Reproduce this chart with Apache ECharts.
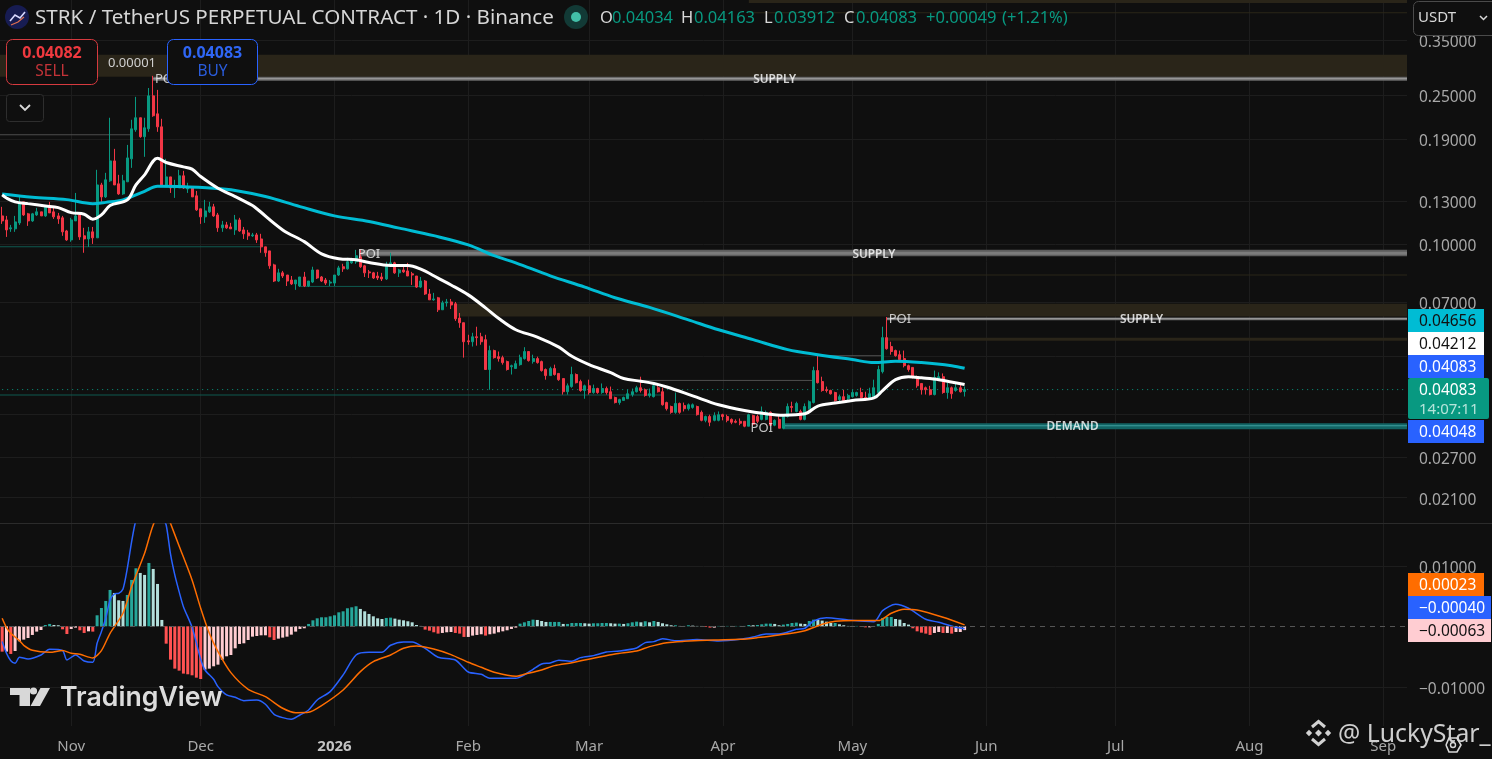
<!DOCTYPE html>
<html><head><meta charset="utf-8">
<style>html,body{margin:0;padding:0;background:#0f0f0f}#c{width:1492px;height:759px}</style>
<script src="https://cdn.jsdelivr.net/npm/echarts@6/dist/echarts.min.js"></script>
</head><body><div id="c"></div>
<script>
const startDate = Date.UTC(2025, 9, 16);
const dayCount = 326;
const categories = [];
for (let i = 0; i < dayCount; i++) categories.push(new Date(startDate + i * 86400000).toISOString().slice(0, 10));

const monthDays = [16, 46, 77, 108, 136, 167, 197, 228, 258, 289, 320];
const monthNames = ['Nov', 'Dec', '2026', 'Feb', 'Mar', 'Apr', 'May', 'Jun', 'Jul', 'Aug', 'Sep'];
const priceTickLabels = [0.35, 0.25, 0.19, 0.13, 0.10, 0.07, 0.027, 0.021];
const priceGridValues = [0.35, 0.25, 0.19, 0.13, 0.10, 0.07, 0.05, 0.035, 0.027, 0.021];
const macdTickLabels = [-0.01, 0.01];

const opens = [
.1188,.1159,.1097,.1097,.1138,.1295,.1203,.1152,.1195,.1218,
.1188,.1256,.1218,.1188,.1174,.1083,.1025,.1152,.1195,.1051,
.1031,.1077,.1038,.1437,.1335,.1474,.1666,.1447,.1360,.1465,
.1687,.2017,.2172,.1933,.2029,.2485,.2225,.2054,.1428,.1510,
.1411,.1411,.1520,.1402,.1420,.1344,.1241,.1181,.1218,.1256,
.1195,.1104,.1124,.1110,.1090,.1159,.1090,.1070,.1051,.1057,
.1031,.0982,.0958,.0879,.0796,.0837,.0826,.0801,.0782,.0772,
.0816,.0772,.0791,.0852,.0816,.0801,.0786,.0786,.0826,.0869,
.0858,.0890,.0896,.0924,.0874,.0842,.0837,.0821,.0816,.0806,
.0874,.0890,.0837,.0852,.0847,.0832,.0821,.0767,.0796,.0735,
.0709,.0718,.0667,.0696,.0700,.0692,.0634,.0616,.0551,.0548,
.0565,.0565,.0555,.0462,.0519,.0500,.0497,.0485,.0470,.0465,
.0476,.0494,.0516,.0485,.0494,.0485,.0462,.0445,.0465,.0451,
.0437,.0403,.0416,.0448,.0429,.0406,.0418,.0401,.0411,.0401,
.0411,.0403,.0389,.0377,.0382,.0386,.0396,.0403,.0413,.0408,
.0394,.0391,.0413,.0403,.0377,.0368,.0355,.0375,.0370,.0363,
.0366,.0368,.0355,.0338,.0346,.0338,.0338,.0350,.0346,.0340,
.0336,.0336,.0336,.0326,.0348,.0346,.0340,.0340,.0355,.0328,
.0340,.0322,.0346,.0368,.0357,.0357,.0340,.0363,.0377,.0459,
.0429,.0408,.0406,.0401,.0384,.0391,.0386,.0391,.0394,.0401,
.0389,.0386,.0391,.0401,.0456,.0562,.0532,.0519,.0506,.0494,
.0473,.0468,.0442,.0424,.0413,.0408,.0396,.0434,.0442,.0401,
.0413,.0406,.0413,.04034];
const closes = [
.1152,.1090,.1104,.1145,.1287,.1195,.1152,.1203,.1218,.1188,
.1256,.1210,.1181,.1166,.1077,.1025,.1159,.1188,.1044,.1031,
.1077,.1038,.1437,.1335,.1483,.1666,.1437,.1360,.1474,.1697,
.2029,.2172,.1933,.2042,.2485,.2199,.2054,.1437,.1510,.1411,
.1428,.1520,.1411,.1420,.1335,.1233,.1181,.1225,.1256,.1188,
.1104,.1124,.1104,.1097,.1159,.1083,.1064,.1051,.1057,.1025,
.0982,.0947,.0874,.0796,.0837,.0821,.0796,.0782,.0801,.0816,
.0772,.0796,.0852,.0811,.0796,.0786,.0791,.0826,.0863,.0858,
.0896,.0907,.0930,.0869,.0837,.0837,.0811,.0811,.0806,.0879,
.0890,.0837,.0852,.0842,.0821,.0826,.0767,.0796,.0735,.0709,
.0713,.0667,.0696,.0700,.0687,.0631,.0616,.0548,.0548,.0565,
.0562,.0548,.0462,.0519,.0497,.0494,.0482,.0462,.0473,.0479,
.0497,.0516,.0488,.0494,.0482,.0459,.0445,.0465,.0448,.0434,
.0403,.0418,.0448,.0426,.0406,.0418,.0401,.0411,.0401,.0411,
.0401,.0386,.0377,.0384,.0389,.0398,.0403,.0413,.0406,.0394,
.0398,.0418,.0403,.0372,.0363,.0355,.0375,.0355,.0363,.0372,
.0372,.0350,.0338,.0346,.0334,.0348,.0350,.0346,.0338,.0334,
.0334,.0332,.0326,.0350,.0330,.0336,.0357,.0355,.0328,.0338,
.0322,.0346,.0368,.0366,.0375,.0340,.0368,.0379,.0459,.0426,
.0406,.0406,.0398,.0382,.0391,.0382,.0394,.0401,.0401,.0389,
.0384,.0398,.0413,.0462,.0562,.0525,.0516,.0503,.0491,.0473,
.0462,.0440,.0418,.0408,.0408,.0396,.0440,.0442,.0401,.0413,
.0398,.0413,.0403,.04083];
const highs = [
.1256,.1188,.1124,.1188,.1344,.1295,.1210,.1210,.1248,.1218,
.1271,.1295,.1256,.1210,.1188,.1090,.1174,.1368,.1210,.1104,
.1110,.1110,.1577,.1456,.1548,.2172,.1794,.1529,.1529,.1838,
.2145,.2470,.2172,.2172,.2608,.2810,.2578,.2158,.1687,.1510,
.1483,.1577,.1567,.1456,.1420,.1385,.1241,.1311,.1295,.1279,
.1210,.1152,.1145,.1138,.1195,.1174,.1110,.1090,.1070,.1070,
.1064,.0982,.0958,.0885,.0858,.0847,.0826,.0821,.0801,.0816,
.0842,.0796,.0869,.0852,.0821,.0811,.0801,.0826,.0874,.0885,
.0918,.0918,.0964,.0964,.0879,.0852,.0842,.0842,.0837,.0896,
.0947,.0896,.0858,.0879,.0890,.0842,.0821,.0816,.0801,.0758,
.0740,.0722,.0705,.0713,.0713,.0700,.0654,.0616,.0572,.0579,
.0601,.0579,.0572,.0535,.0522,.0516,.0503,.0488,.0476,.0488,
.0506,.0530,.0516,.0506,.0500,.0488,.0465,.0470,.0476,.0451,
.0437,.0424,.0470,.0451,.0434,.0421,.0434,.0421,.0413,.0424,
.0416,.0416,.0391,.0386,.0391,.0408,.0411,.0418,.0442,.0411,
.0411,.0421,.0421,.0413,.0379,.0370,.0401,.0377,.0377,.0375,
.0375,.0370,.0359,.0348,.0350,.0355,.0357,.0352,.0350,.0342,
.0340,.0342,.0336,.0352,.0350,.0350,.0368,.0359,.0357,.0340,
.0350,.0348,.0375,.0379,.0379,.0361,.0375,.0382,.0470,.0506,
.0442,.0416,.0408,.0403,.0396,.0408,.0398,.0408,.0403,.0413,
.0403,.0413,.0434,.0473,.0601,.0638,.0548,.0522,.0519,.0519,
.0476,.0468,.0445,.0424,.0416,.0418,.0459,.0454,.0451,.0426,
.0416,.0426,.0426,.04163];
const lows = [
.1131,.1044,.1077,.1077,.1124,.1188,.1117,.1145,.1188,.1188,
.1181,.1210,.1166,.1131,.1051,.1019,.1013,.1152,.1025,.0947,
.0982,.1000,.1038,.1295,.1327,.1465,.1437,.1352,.1352,.1465,
.1596,.1992,.1921,.1708,.1992,.2185,.1992,.1437,.1420,.1368,
.1327,.1411,.1402,.1368,.1335,.1225,.1131,.1138,.1210,.1181,
.1077,.1077,.1097,.1097,.1057,.1077,.1031,.1025,.1044,.1006,
.0947,.0924,.0858,.0791,.0791,.0811,.0772,.0777,.0754,.0767,
.0767,.0767,.0786,.0806,.0791,.0777,.0772,.0772,.0821,.0842,
.0854,.0885,.0885,.0863,.0816,.0811,.0806,.0801,.0796,.0801,
.0869,.0832,.0816,.0837,.0821,.0777,.0763,.0763,.0731,.0709,
.0705,.0658,.0667,.0680,.0670,.0623,.0597,.0497,.0538,.0532,
.0535,.0538,.0462,.0408,.0494,.0485,.0476,.0459,.0448,.0465,
.0473,.0491,.0485,.0479,.0479,.0456,.0434,.0445,.0445,.0431,
.0396,.0396,.0413,.0424,.0403,.0386,.0396,.0398,.0398,.0398,
.0396,.0386,.0375,.0372,.0382,.0386,.0391,.0401,.0401,.0391,
.0389,.0389,.0401,.0370,.0359,.0352,.0352,.0352,.0357,.0359,
.0363,.0348,.0336,.0334,.0326,.0336,.0336,.0338,.0334,.0330,
.0332,.0328,.0324,.0326,.0328,.0332,.0338,.0338,.0326,.0326,
.0322,.0320,.0344,.0355,.0355,.0338,.0338,.0361,.0375,.0424,
.0403,.0401,.0396,.0379,.0379,.0379,.0382,.0389,.0391,.0386,
.0382,.0384,.0389,.0398,.0451,.0522,.0506,.0500,.0488,.0468,
.0456,.0437,.0413,.0396,.0396,.0394,.0394,.0431,.0398,.0386,
.0386,.0403,.0401,.03912];

const slowMaDays = [0,7,15,21,24,28,33,36,41,49,54,61,69,77,85,92,100,108,114,119,127,135,142,150,159,166,174,182,189,197,202,207,213,220,223];
const slowMaVals = [.1360,.1333,.1313,.1281,.1291,.1311,.1382,.1426,.1423,.1408,.1389,.1338,.1258,.1188,.1148,.1102,.1052,.0994,.0930,.0890,.0822,.0767,.0718,.0677,.0627,.0590,.0555,.0522,.0506,.0491,.0482,.0486,.0482,.0473,.04656];
const fastMaDays = [0,1,3,6,10,13,16,19,21,23,25,29,31,33,36,38,42,44,46,50,54,58,59,65,70,74,78,82,85,90,94,97,101,104,108,112,115,119,124,129,132,136,141,144,148,151,154,160,166,172,177,181,186,189,193,197,202,204,207,210,213,217,223];
const fastMaVals = [.1352,.1326,.1295,.1281,.1263,.1250,.1212,.1200,.1164,.1195,.1266,.1311,.1437,.1529,.1694,.1650,.1606,.1584,.1513,.1408,.1338,.1266,.1241,.1090,.1014,.0941,.0913,.0907,.0892,.0876,.0876,.0856,.0810,.0777,.0731,.0675,.0633,.0590,.0564,.0530,.0501,.0476,.0453,.0437,.0430,.0424,.0415,.0393,.0372,.0359,.0352,.0349,.0352,.0369,.0376,.0382,.0388,.0406,.0434,.0442,.0439,.0434,.04212];

const macdHist = [
-.00419,-.00419,-.00457,-.00408,-.00248,-.00220,-.00193,-.00143,-.00088,-.00061,
.00022,.00039,.00022,.00017,-.00050,-.00127,-.00044,-.00022,-.00066,-.00110,
-.00083,-.00088,.00182,.00303,.00419,.00601,.00551,.00430,.00419,.00518,
.00766,.00959,.00882,.00849,.01047,.00948,.00700,.00105,-.00287,-.00551,
-.00700,-.00733,-.00782,-.00793,-.00810,-.00849,-.00871,-.00716,-.00700,-.00661,
-.00634,-.00551,-.00496,-.00474,-.00364,-.00292,-.00281,-.00226,-.00171,-.00160,
-.00149,-.00149,-.00182,-.00226,-.00204,-.00187,-.00171,-.00138,-.00088,-.00044,
-.00033,.00039,.00099,.00132,.00149,.00149,.00165,.00182,.00231,.00248,
.00298,.00314,.00331,.00287,.00248,.00204,.00165,.00132,.00121,.00138,
.00143,.00127,.00110,.00099,.00083,.00066,.00022,.00006,-.00055,-.00072,
-.00099,-.00121,-.00110,-.00099,-.00094,-.00110,-.00121,-.00176,-.00176,-.00154,
-.00143,-.00132,-.00154,-.00132,-.00121,-.00099,-.00083,-.00066,-.00044,-.00022,
.00044,.00066,.00088,.00110,.00105,.00088,.00072,.00072,.00072,.00072,
.00039,.00039,.00055,.00055,.00055,.00050,.00044,.00050,.00050,.00055,
.00055,.00050,.00044,.00044,.00039,.00050,.00066,.00077,.00066,.00083,
.00066,.00088,.00072,.00050,.00033,.00017,.00017,.00006,.00006,.00017,
.00011,.00006,.00006,-.00011,-.00022,-.00022,.00006,.00006,.00006,.00006,
.00006,.00006,.00006,.00022,.00017,.00022,.00033,.00044,.00044,.00039,
.00017,.00028,.00039,.00055,.00061,.00044,.00039,.00088,.00110,.00105,
.00094,.00077,.00055,.00055,.00033,.00017,.00006,.00006,.00006,-.00011,
-.00017,-.00017,.00006,.00039,.00138,.00154,.00154,.00121,.00110,.00055,
.00028,-.00033,-.00083,-.00105,-.00121,-.00143,-.00110,-.00094,-.00110,-.00110,
-.00121,-.00094,-.00094,-.00063];

const macdDays = [0,1,2,3,4,6,9,11,14,15,17,19,21,22,23,24,25,26,27,28,29,30,31,33,34,36,37,38,39,40,41,42,44,46,47,49,50,52,54,56,59,61,63,65,67,69,71,73,76,79,82,85,88,90,93,95,98,101,105,108,111,113,119,121,123,125,127,129,132,134,137,140,143,147,149,151,153,156,161,166,171,174,177,180,184,186,188,191,196,202,204,207,210,214,217,221,223];
const macdVals = [-.00253,-.00446,-.00568,-.00612,-.00512,-.00540,-.00474,-.00380,-.00402,-.00557,-.00474,-.00573,-.00595,-.00281,-.00088,.00132,.00435,.00534,.00545,.00617,.00959,.01400,.01758,.0215,.0228,.0212,.0182,.01675,.01196,.00849,.00573,.00325,-.00017,-.00545,-.00722,-.00876,-.00997,-.01135,-.01174,-.01229,-.01218,-.01289,-.01455,-.01510,-.01537,-.01466,-.01383,-.01218,-.01080,-.00804,-.00474,-.00430,-.00430,-.00314,-.00259,-.00259,-.00364,-.00512,-.00557,-.00755,-.00793,-.00860,-.00860,-.00804,-.00711,-.00623,-.00606,-.00562,-.00579,-.00518,-.00485,-.00424,-.00408,-.00358,-.00270,-.00253,-.00204,-.00237,-.00220,-.00242,-.00215,-.00176,-.00127,-.00127,-.00050,-.00033,.00088,.00143,.00105,.00077,.00259,.00364,.00298,.00116,.00066,-.00017,-.00040];
const signalDays = [0,1,2,4,5,7,11,14,16,18,21,23,25,28,30,33,35,37,38,39,41,44,46,48,50,53,57,61,65,68,71,74,79,83,86,90,93,96,100,104,108,111,114,119,121,125,128,132,137,142,147,150,154,158,165,171,175,180,186,190,193,198,203,206,209,212,218,223];
const signalVals = [.00132,-.00022,-.00116,-.00237,-.00314,-.00397,-.00430,-.00402,-.00446,-.00463,-.00523,-.00402,-.00116,.00215,.00656,.01207,.01675,.0190,.0190,.01703,.01328,.00766,.00298,-.00116,-.00419,-.00766,-.01041,-.01163,-.01355,-.01427,-.01422,-.01311,-.01052,-.00749,-.00584,-.00474,-.00364,-.00325,-.00375,-.00468,-.00595,-.00678,-.00760,-.00827,-.00793,-.00722,-.00650,-.00601,-.00529,-.00457,-.00408,-.00336,-.00270,-.00248,-.00226,-.00215,-.00187,-.00143,-.00072,.00033,.00083,.00094,.00094,.00215,.00281,.00270,.00149,.00023];

// Supply / demand zones: first day (null = left edge), top price, bottom price, colour name
const zoneStart = [null, 173, 35, 83, 105, 205, 205, 181];
const zoneTop = [.3198, .448, .2793, .0964, .0692, .0636, .0562, .0332];
const zoneBottom = [.2793, .4395, .2727, .0927, .0640, .0625, .0551, .0320];
const zoneKind = ['gold', 'gold', 'grey', 'grey2', 'gold', 'grey', 'gold2', 'teal'];

// Horizontal level lines: first day (null = left edge), last day (null = right edge), price, colour name
const levelStart = [null, null, 69, null, 148, 189, 100, 173, 35, 83, 205, 181];
const levelEnd = [30, 60, 97, 153, 188, 204, null, null, null, null, null, null];
const levelPrice = [.1955, .0982, .0770, .0395, .0432, .0503, .0826, .414, .2760, .0944, .0631, .0327];
const levelKind = ['grey', 'teal', 'teal', 'teal', 'grey', 'grey', 'gold', 'gold', 'light', 'mid', 'light', 'tealLight'];

const noteDays = [38, 179, 85, 202, 208, 264, 176, 248];
const notePrices = [.2760, .2758, .0946, .0941, .0633, .0633, .0324, .0328];
const noteTexts = ['POI', 'SUPPLY', 'POI', 'SUPPLY', 'POI', 'SUPPLY', 'POI', 'DEMAND'];

const lastClose = 0.04083;

const UP = '#089981', DOWN = '#F23645', BG = '#0f0f0f', GRID = '#1d1d1d', FONT = '"Noto Sans", sans-serif';
const zoneColors = { gold: '#2a2519', gold2: '#2a2519', grey: '#6a6a6a', grey2: '#5c5c5c', teal: '#126464' };
const levelColors = { grey: '#4e4e4e', teal: '#0f5a50', gold: '#2b2719', light: '#a6a6a6', mid: '#7c7c7c', tealLight: '#3f9c9c' };

const candleData = opens.map((o, i) => [o, closes[i], lows[i], highs[i]]);
const pairs = (d, v) => d.map((x, i) => [x, v[i]]);
const histData = macdHist.map((v, i) => {
  const p = i ? macdHist[i - 1] : 0;
  const color = v >= 0 ? (v >= p ? '#26A69A' : '#B2DFDB') : (v < p || i === 0 ? '#FF5252' : '#FFCDD2');
  return { value: v, itemStyle: { color } };
});
const zoneAreas = zoneTop.map((t, i) => {
  const a = { yAxis: t, itemStyle: { color: zoneColors[zoneKind[i]], opacity: 1 } };
  if (zoneStart[i] !== null) a.xAxis = zoneStart[i];
  return [a, { yAxis: zoneBottom[i] }];
});
// Levels touching a pane edge are thin areas so that they reach it; the others are plain lines.
const levelAreas = [];
const levelSeries = [];
levelPrice.forEach((p, i) => {
  const color = levelColors[levelKind[i]];
  const thick = levelKind[i] === 'mid' ? 1.5 : 0.5;
  if (levelStart[i] === null || levelEnd[i] === null) {
    const a = { yAxis: p * (1 + 0.00615 * thick), itemStyle: { color, opacity: 1 } };
    const b = { yAxis: p * (1 - 0.00615 * thick) };
    if (levelStart[i] !== null) a.xAxis = levelStart[i];
    if (levelEnd[i] !== null) b.xAxis = levelEnd[i];
    levelAreas.push([a, b]);
  } else {
    levelSeries.push({
      type: 'line', xAxisIndex: 0, yAxisIndex: 0, z: 2, symbol: 'none', silent: true,
      data: [[levelStart[i], p], [levelEnd[i], p]],
      lineStyle: { color, width: 1 }
    });
  }
});
const tf = v => v.toFixed(5);
const isMonth = idx => monthDays.indexOf(idx) >= 0;
const axisRich = { a: { color: '#a8a8a8', fontFamily: FONT, fontSize: 15.5, padding: [5, 0, 0, 0] } };

const txt = (x, y, text, fill, size, weight, align) => ({
  type: 'text', z: 110, silent: true,
  style: { x, y, text, fill, font: (weight || 400) + ' ' + size + 'px ' + FONT, textVerticalAlign: 'middle', textAlign: align || 'left' }
});
const box = (x, y, w, h, fill, stroke, r) => ({
  type: 'rect', z: 105, silent: true, shape: { x, y, width: w, height: h, r: r || 0 },
  style: { fill: fill || 'none', stroke: stroke || 'none', lineWidth: 1 }
});
const poly = (pts, stroke, w) => ({ type: 'polyline', z: 110, silent: true, shape: { points: pts }, style: { stroke, lineWidth: w || 1.5, fill: 'none' } });
const fillPoly = (pts, fill) => ({ type: 'polygon', z: 110, silent: true, shape: { points: pts }, style: { fill } });
const diamond = (cx, cy, r, fill) => fillPoly([[cx, cy - r], [cx + r, cy], [cx, cy + r], [cx - r, cy]], fill);
const circ = (cx, cy, r, fill, stroke, w) => ({ type: 'circle', z: 110, silent: true, shape: { cx, cy, r }, style: { fill: fill || 'none', stroke: stroke || 'none', lineWidth: w || 1 } });

const hdrVal = '#089981', hdrKey = '#d8d8d8';
const ohlcBits = [[600, 'O', hdrKey], [612, '0.04034', hdrVal], [681, 'H', hdrKey], [694, '0.04163', hdrVal], [764, 'L', hdrKey], [774, '0.03912', hdrVal], [844, 'C', hdrKey], [856, '0.04083', hdrVal], [926, '+0.00049', hdrVal], [1002, '(+1.21%)', hdrVal]];

const graphics = [
  circ(17, 17, 12, '#171c52'), poly([[10, 21], [15, 15], [20, 18], [25, 12]], '#d8d8ff', 1.6), poly([[11, 25], [18, 22], [24, 17]], '#e07050', 1.2),
  txt(35, 18.5, 'STRK / TetherUS PERPETUAL CONTRACT · 1D · Binance', '#d6d6d6', 20.6),
  circ(576, 17, 12, '#123a36'), circ(576, 17, 5, '#42bfa8')
].concat(ohlcBits.map(b => txt(b[0], 18, b[1], b[2], 16.5))).concat([
  box(6.5, 39.5, 91, 45, BG, '#d63a3f', 6),
  txt(52, 53, '0.04082', '#f0393f', 16, 700, 'center'), txt(52, 72, 'SELL', '#c33338', 15.5, 400, 'center'),
  txt(132, 63, '0.00001', '#cfcfcf', 13, 400, 'center'),
  box(167.5, 39.5, 90, 45, BG, '#2962FF', 6),
  txt(212.5, 53, '0.04083', '#2f66f5', 16, 700, 'center'), txt(212.5, 72, 'BUY', '#2a5cdc', 15.5, 400, 'center'),
  box(6.5, 94.5, 37, 27, BG, '#2e2e2e', 3), poly([[20, 105], [25, 110], [30, 105]], '#d8d8d8', 1.8),
  box(1413.5, 1.5, 90, 34, BG, '#4a4a4a', 5), txt(1418, 18, 'USDT', '#d8d8d8', 15),
  poly([[1480, 16], [1483.5, 19.5], [1487, 16]], '#d8d8d8', 1.5),
  box(1408, 309, 76, 23, '#00BCD4'), txt(1419, 322, '0.04656', '#111', 15.5),
  box(1408, 332, 76, 23, '#ffffff'), txt(1419, 345, '0.04212', '#111', 15.5),
  box(1408, 355, 76, 23, '#2962FF'), txt(1419, 368, '0.04083', '#fff', 15.5),
  box(1408, 378, 81, 41, '#089981', null, 2), txt(1419, 391, '0.04083', '#fff', 15.5), txt(1419, 410, '14:07:11', '#b5e4da', 15),
  box(1408, 420, 76, 23, '#2962FF'), txt(1419, 433, '0.04048', '#fff', 15.5),
  box(1408, 573, 76, 23, '#FF6D00'), txt(1419, 586, '0.00023', '#fff', 15.5),
  box(1408, 596, 83, 23, '#2962FF'), txt(1419, 609, '−0.00040', '#fff', 15.5),
  box(1408, 619, 83, 23, '#FFCDD2'), txt(1419, 632, '−0.00063', '#111', 15.5),
  fillPoly([[10, 688], [30, 688], [30, 706], [19.5, 706], [19.5, 695], [10, 695]], '#d8d8d8'),
  circ(33.5, 691, 3.6, '#d8d8d8'),
  fillPoly([[40.5, 688], [50, 688], [40, 706], [30.5, 706]], '#d8d8d8'),
  { type: 'text', z: 110, silent: true, style: { x: 60, y: 698, text: 'TradingView', fill: '#dcdcdc', font: '600 26.7px Inter, sans-serif', textVerticalAlign: 'middle' } },
  diamond(1318.5, 733, 3.5, '#d2d2d2'), diamond(1309, 733, 3.2, '#d2d2d2'), diamond(1328, 733, 3.2, '#d2d2d2'),
  poly([[1312, 727], [1318.5, 721.5], [1325, 727]], '#d2d2d2', 3), poly([[1312, 739], [1318.5, 744.5], [1325, 739]], '#d2d2d2', 3),
  txt(1338, 734.5, '@ LuckyStar_', '#cfcfcf', 24.8),
  poly([[1446, 745], [1449, 738], [1457, 738], [1461, 745], [1457, 752], [1449, 752], [1446, 745]], '#d8d8d8', 1.6),
  circ(1453, 745, 2.5, null, '#d8d8d8', 1.4)
]);

const option = {
  animation: false,
  backgroundColor: BG,
  grid: [
    { left: 0, top: 0, width: 1407, height: 523, show: false },
    { left: 0, top: 524, width: 1407, height: 202, show: false }
  ],
  xAxis: [
    { type: 'category', gridIndex: 0, data: categories, boundaryGap: true, axisLine: { show: false }, axisTick: { show: false }, axisLabel: { show: false },
      splitLine: { show: true, alignWithLabel: true, interval: isMonth, lineStyle: { color: GRID, width: 1 } } },
    { type: 'category', gridIndex: 1, data: categories, boundaryGap: true, axisLine: { show: false }, axisTick: { show: false },
      axisLabel: { show: true, interval: isMonth, margin: 13, color: '#a8a8a8', fontFamily: FONT, fontSize: 15, hideOverlap: false,
        formatter: (v, i) => { const k = monthDays.indexOf(i); const n = k < 0 ? '' : monthNames[k]; return n === '2026' ? '{b|' + n + '}' : n; },
        rich: { b: { fontWeight: 700, color: '#c4c4c4', fontSize: 15, fontFamily: FONT } } },
      splitLine: { show: true, alignWithLabel: true, interval: isMonth, lineStyle: { color: GRID, width: 1 } } }
  ],
  yAxis: [
    { type: 'log', logBase: 10, gridIndex: 0, position: 'right', min: 0.01798, max: 0.448,
      axisLine: { show: false },
      axisTick: { show: false, customValues: priceGridValues },
      minorTick: { show: false },
      axisLabel: { show: true, inside: false, margin: 12, customValues: priceTickLabels, align: 'left', rich: axisRich, formatter: v => '{a|' + tf(+v) + '}', showMinLabel: true, showMaxLabel: true },
      splitLine: { show: true, lineStyle: { color: GRID, width: 1 } } },
    { type: 'value', gridIndex: 1, position: 'right', min: -0.01648, max: 0.01691,
      axisLine: { show: false },
      axisTick: { show: false, customValues: macdTickLabels },
      axisLabel: { show: true, margin: 12, customValues: macdTickLabels, align: 'left', rich: axisRich, formatter: v => '{a|' + (+v < 0 ? '−' : '') + tf(Math.abs(+v)) + '}' },
      splitLine: { show: true, lineStyle: { color: GRID, width: 1 } } }
  ],
  graphic: graphics.concat([
    { type: 'line', z: 1, silent: true, shape: { x1: 0, y1: 523.5, x2: 1492, y2: 523.5 }, style: { stroke: '#2b2b2b', lineWidth: 1 } }
  ]),
  series: [
    { type: 'line', xAxisIndex: 0, yAxisIndex: 0, z: 1, data: [], symbol: 'none', silent: true,
      markArea: { silent: true, data: zoneAreas.concat(levelAreas) } }
  ].concat(levelSeries).concat([
    { type: 'line', xAxisIndex: 0, yAxisIndex: 0, z: 2, symbol: 'none', silent: true,
      data: [[0, lastClose], [325, lastClose]], lineStyle: { color: UP, width: 1, type: [1, 4] } },
    { type: 'candlestick', xAxisIndex: 0, yAxisIndex: 0, z: 3, barWidth: 2.5, data: candleData,
      itemStyle: { color: UP, color0: DOWN, borderColor: UP, borderColor0: DOWN, borderWidth: 1 } },
    { type: 'line', xAxisIndex: 0, yAxisIndex: 0, z: 4, symbol: 'none', smooth: 0.35, silent: true, data: pairs(slowMaDays, slowMaVals),
      lineStyle: { color: '#00BCD4', width: 3 } },
    { type: 'line', xAxisIndex: 0, yAxisIndex: 0, z: 4, symbol: 'none', smooth: 0.35, silent: true, data: pairs(fastMaDays, fastMaVals),
      lineStyle: { color: '#ffffff', width: 3 } },
    { type: 'scatter', xAxisIndex: 0, yAxisIndex: 0, z: 5, symbolSize: 1, itemStyle: { color: 'rgba(0,0,0,0)' }, silent: true,
      data: noteTexts.map((t, i) => ({ name: t, value: [noteDays[i], notePrices[i]],
        label: t === 'POI' ? { fontSize: 13, fontWeight: 400, color: '#f2f2f2' } : { fontSize: 11.8, fontWeight: 600, color: '#ffffff' } })),
      label: { show: true, position: 'inside', offset: [0, 1], formatter: '{b}', fontFamily: FONT } },
    { type: 'bar', xAxisIndex: 1, yAxisIndex: 1, z: 2, barWidth: 3, data: histData,
      markLine: { silent: true, symbol: 'none', label: { show: false }, lineStyle: { color: '#555', type: [5, 5], width: 1 }, data: [{ yAxis: 0 }] } },
    { type: 'line', xAxisIndex: 1, yAxisIndex: 1, z: 3, symbol: 'none', smooth: 0.25, silent: true, data: pairs(macdDays, macdVals),
      lineStyle: { color: '#2962FF', width: 1.5 } },
    { type: 'line', xAxisIndex: 1, yAxisIndex: 1, z: 3, symbol: 'none', smooth: 0.25, silent: true, data: pairs(signalDays, signalVals),
      lineStyle: { color: '#FF6D00', width: 1.5 } }
  ])
};
const chart = echarts.init(document.getElementById('c'), null, { renderer: 'canvas', width: 1492, height: 759 });
chart.setOption(option);
</script></body></html>
